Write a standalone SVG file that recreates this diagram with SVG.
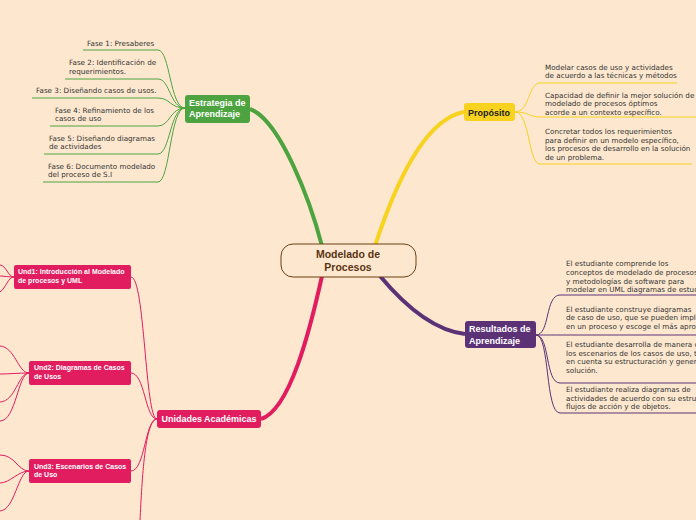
<svg xmlns="http://www.w3.org/2000/svg" width="696" height="520" viewBox="0 0 696 520">
<style>
.t{font-family:"DejaVu Sans",sans-serif;font-size:7.2px;fill:#333}
.b{font-family:"Liberation Sans",Arial,sans-serif;font-weight:bold;font-size:9px;fill:#fff}
.s{font-family:"Liberation Sans",Arial,sans-serif;font-weight:bold;font-size:7px;fill:#fff}
.g{fill:none;stroke:#4ea341;stroke-width:1}
.y{fill:none;stroke:#f7d21e;stroke-width:1}
.p{fill:none;stroke:#5c3276;stroke-width:1}
.r{fill:none;stroke:#e21d5f;stroke-width:1}
</style>
<rect width="696" height="520" fill="#fde8cf"/>
<g id="connectors">
<path d="M322,246 C310,200 280,120 250,109" fill="none" stroke="#4ea341" stroke-width="4"/>
<path d="M375,246 C390,200 420,120 464,112" fill="none" stroke="#f7d21e" stroke-width="4"/>
<path d="M380,276 C400,300 430,330 465,334" fill="none" stroke="#5c3276" stroke-width="4"/>
<path d="M322,276 C310,330 290,410 261,419" fill="none" stroke="#e21d5f" stroke-width="4"/>
<path class="g" d="M185,108 C170,108 170,50 158,50 H83"/>
<path class="g" d="M185,108 C170,108 170,79 158,79 H65"/>
<path class="g" d="M185,108 C170,108 170,98 158,98 H32"/>
<path class="g" d="M185,108 C170,108 170,126 158,126 H50"/>
<path class="g" d="M185,108 C170,108 170,154 158,154 H44"/>
<path class="g" d="M185,108 C170,108 170,182 158,182 H43"/>
<path class="y" d="M515,112 C530,112 528,83 540,83 H677"/>
<path class="y" d="M515,112 C530,112 528,117 540,117 H696"/>
<path class="y" d="M515,112 C530,112 528,164 540,164 H692"/>
<path class="p" d="M536,335 C550,335 545,295 560,295 H696"/>
<path class="p" d="M536,335 C550,335 545,335 560,335 H696"/>
<path class="p" d="M536,335 C550,335 545,383 560,383 H696"/>
<path class="p" d="M536,335 C550,335 545,413 560,413 H696"/>
<path class="r" d="M157,419 C145,419 145,277 131,277"/>
<path class="r" d="M157,419 C145,419 145,373 131,373"/>
<path class="r" d="M157,419 C145,419 145,471 131,471"/>
<path class="r" d="M157,419 C145,419 142,480 140,520"/>
<path class="r" d="M14,277 C8,277 6,265 0,265"/>
<path class="r" d="M14,277 C8,277 4,276 0,276"/>
<path class="r" d="M14,277 C8,277 6,288 0,292"/>
<path class="r" d="M29,373 C18,373 15,347 0,346"/>
<path class="r" d="M29,373 C18,373 10,374 0,374"/>
<path class="r" d="M29,373 C18,373 16,401 0,402"/>
<path class="r" d="M29,373 C18,373 16,421 0,421"/>
<path class="r" d="M29,471 C18,471 15,455 0,455"/>
<path class="r" d="M29,471 C18,471 10,483 0,483"/>
<path class="r" d="M29,471 C18,471 15,510 0,511"/>
</g>
<g id="center"><rect x="281" y="244" width="135" height="33" rx="12" fill="#fde8cf" stroke="#6b3e12" stroke-width="1"/>
<text x="348" y="258" text-anchor="middle" style="font-family:'Liberation Sans',Arial,sans-serif;font-weight:bold;font-size:10.5px;fill:#5a3414">Modelado de</text>
<text x="348" y="271" text-anchor="middle" style="font-family:'Liberation Sans',Arial,sans-serif;font-weight:bold;font-size:10.5px;fill:#5a3414">Procesos</text></g>
<g id="estrategia"><rect x="185" y="95" width="65" height="28" rx="3" fill="#4ea341"/><text class="b" x="189" y="106">Estrategia de</text><text class="b" x="189" y="117">Aprendizaje</text></g>
<g id="fases">
<text class="t" x="87" y="46">Fase 1: Presaberes</text>
<text class="t" x="69" y="65">Fase 2: Identificación de</text><text class="t" x="69" y="74">requerimientos.</text>
<text class="t" x="36" y="93">Fase 3: Diseñando casos de usos.</text>
<text class="t" x="55" y="113">Fase 4: Refinamiento de los</text><text class="t" x="55" y="121">casos de uso</text>
<text class="t" x="49" y="141">Fase 5: Diseñando diagramas</text><text class="t" x="49" y="149">de actividades</text>
<text class="t" x="48" y="169">Fase 6: Documento modelado</text><text class="t" x="48" y="177">del proceso de S.I</text>
</g>
<g id="proposito"><rect x="464" y="103" width="51" height="18" rx="3" fill="#f7d21e"/><text x="489" y="116" text-anchor="middle" style="font-family:'Liberation Sans',Arial,sans-serif;font-weight:bold;font-size:9px;fill:#222">Propósito</text></g>
<g id="prop-items">
<text class="t" x="545" y="70">Modelar casos de uso y actividades</text><text class="t" x="545" y="78">de acuerdo a las técnicas y métodos</text>
<text class="t" x="545" y="98">Capacidad de definir la mejor solución de</text><text class="t" x="545" y="106">modelado de procesos óptimos</text><text class="t" x="545" y="115">acorde a un contexto específico.</text>
<text class="t" x="545" y="134">Concretar todos los requerimientos</text><text class="t" x="545" y="143">para definir en un modelo específico,</text><text class="t" x="545" y="151">los procesos de desarrollo en la solución</text><text class="t" x="545" y="160">de un problema.</text>
</g>
<g id="resultados"><rect x="465" y="321" width="71" height="27" rx="3" fill="#5c3276"/><text class="b" x="469" y="332">Resultados de</text><text class="b" x="469" y="344">Aprendizaje</text></g>
<g id="res-items">
<text class="t" x="566" y="266">El estudiante comprende los</text><text class="t" x="566" y="275">conceptos de modelado de procesos</text><text class="t" x="566" y="284">y metodologías de software para</text><text class="t" x="566" y="292">modelar en UML diagramas de estudio</text>
<text class="t" x="566" y="312">El estudiante construye diagramas</text><text class="t" x="566" y="320">de caso de uso, que se pueden implementar</text><text class="t" x="566" y="329">en un proceso y escoge el más apropiado</text>
<text class="t" x="566" y="347">El estudiante desarrolla de manera clara</text><text class="t" x="566" y="356">los escenarios de los casos de uso, teniendo</text><text class="t" x="566" y="364">en cuenta su estructuración y generando</text><text class="t" x="566" y="373">solución.</text>
<text class="t" x="566" y="392">El estudiante realiza diagramas de</text><text class="t" x="566" y="401">actividades de acuerdo con su estructura</text><text class="t" x="566" y="409">flujos de acción y de objetos.</text>
</g>
<g id="unidades"><rect x="157" y="410" width="104" height="18" rx="3" fill="#e21d5f"/><text class="b" x="209" y="422" text-anchor="middle">Unidades Académicas</text></g>
<g id="und1"><rect x="14" y="265" width="117" height="24" rx="2" fill="#e21d5f"/><text class="s" x="18" y="274">Und1: Introducción al Modelado</text><text class="s" x="18" y="283">de procesos y UML</text></g>
<g id="und2"><rect x="29" y="361" width="102" height="24" rx="2" fill="#e21d5f"/><text class="s" x="34" y="370">Und2: Diagramas de Casos</text><text class="s" x="34" y="379">de Usos</text></g>
<g id="und3"><rect x="29" y="459" width="102" height="24" rx="2" fill="#e21d5f"/><text class="s" x="34" y="469">Und3: Escenarios de Casos</text><text class="s" x="34" y="477">de Uso</text></g>
</svg>
